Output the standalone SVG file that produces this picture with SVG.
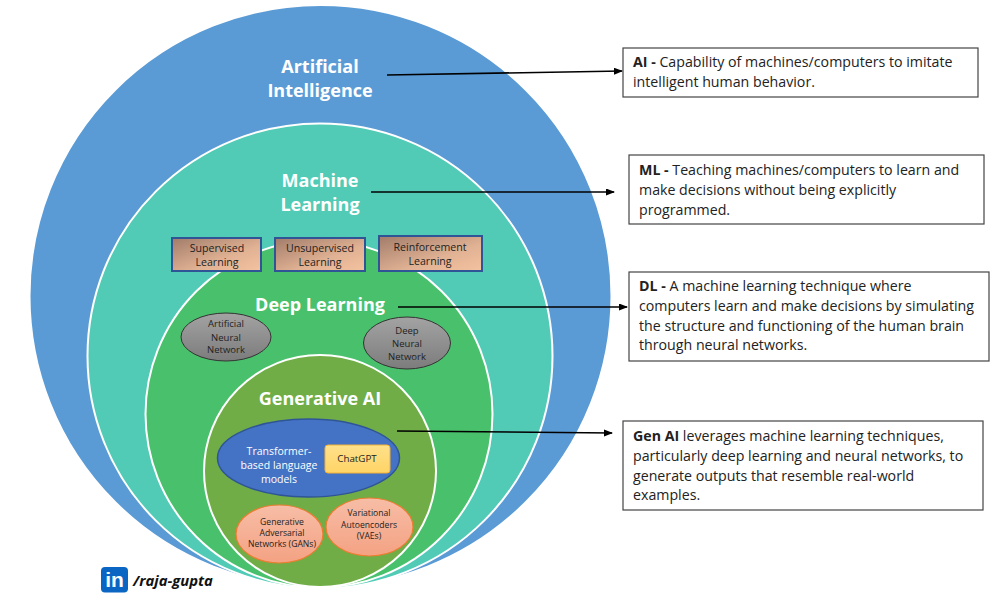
<svg xmlns="http://www.w3.org/2000/svg" width="999" height="615" viewBox="0 0 999 615">
<style>
text{font-family:"Open Sans","Noto Sans","Liberation Sans",sans-serif;text-anchor:middle}
.circ{stroke:#fff;stroke-width:2}
.title{fill:#fff;font-weight:700;font-size:18px}
.sm{fill:#222;font-size:10.6px}
.xs{fill:#222;font-size:8.6px}
.gt{fill:#222;font-size:9.5px}
.rect{fill:url(#brown);stroke:#2f5597;stroke-width:2}
.gray{fill:url(#grayG);stroke:#333;stroke-width:1}
.sal{fill:url(#salG);stroke:#ed7d31;stroke-width:1.2}
.box{fill:#fff;stroke:#444;stroke-width:1.2}
.bt{fill:#222;font-size:14.2px;text-anchor:start}
.bt tspan.b{font-weight:700}
.conn{stroke:#000;stroke-width:1.6;fill:none;marker-end:url(#arr)}
</style>
<defs>
<linearGradient id="brown" x1="0" y1="0" x2="1" y2="1"><stop offset="0" stop-color="#a17c6a"/><stop offset="0.6" stop-color="#e0b193"/><stop offset="1" stop-color="#f4c3a0"/></linearGradient>
<linearGradient id="grayG" x1="0" y1="0" x2="0" y2="1"><stop offset="0" stop-color="#a3a3a3"/><stop offset="1" stop-color="#7c7c7c"/></linearGradient>
<linearGradient id="salG" x1="0" y1="0" x2="0" y2="1"><stop offset="0" stop-color="#f7bda6"/><stop offset="1" stop-color="#f4a283"/></linearGradient>
<linearGradient id="yel" x1="0" y1="0" x2="0" y2="1"><stop offset="0" stop-color="#ffe08a"/><stop offset="1" stop-color="#ffd466"/></linearGradient>
<marker id="arr" markerWidth="9" markerHeight="8" refX="8" refY="3.5" orient="auto" markerUnits="userSpaceOnUse"><path d="M0 0L9 3.5L0 7Z" fill="#000"/></marker>
</defs>
<rect width="999" height="615" fill="#fff"/>
<g id="node-ai"><circle class="circ" cx="320.500" cy="296" r="291" fill="#5b9bd5"/><text class="title" x="320" y="73">Artificial</text><text class="title" x="320" y="97">Intelligence</text></g>
<g id="node-ml"><circle class="circ" cx="320" cy="356" r="232.500" fill="#51cbb6"/><text class="title" x="320" y="187">Machine</text><text class="title" x="320" y="211">Learning</text></g>
<g id="node-dl"><circle class="circ" cx="319" cy="414" r="173.500" fill="#49c16c"/><text class="title" x="320" y="311">Deep Learning</text></g>
<g id="node-gen"><circle class="circ" cx="320" cy="471" r="116" fill="#70ad47"/><text class="title" x="320" y="405">Generative AI</text></g>
<g id="node-supervised"><rect class="rect" x="172" y="238" width="89" height="33"/><text class="sm" x="217" y="252">Supervised</text><text class="sm" x="217" y="266">Learning</text></g>
<g id="node-unsupervised"><rect class="rect" x="275" y="238" width="90" height="33"/><text class="sm" x="320" y="252">Unsupervised</text><text class="sm" x="320" y="266">Learning</text></g>
<g id="node-reinforcement"><rect class="rect" x="379" y="236" width="103" height="35"/><text class="sm" x="430" y="251">Reinforcement</text><text class="sm" x="430" y="265">Learning</text></g>
<g id="node-ann"><ellipse class="gray" cx="226" cy="337" rx="45" ry="24"/><text class="gt" x="226" y="327">Artificial</text><text class="gt" x="226" y="341">Neural</text><text class="gt" x="226" y="353">Network</text></g>
<g id="node-dnn"><ellipse class="gray" cx="407" cy="343" rx="43.500" ry="26"/><text class="gt" x="407" y="334">Deep</text><text class="gt" x="407" y="347">Neural</text><text class="gt" x="407" y="360">Network</text></g>
<g id="node-transformer"><ellipse cx="308.500" cy="458" rx="91" ry="39" fill="#4472c4" stroke="#2f5597" stroke-width="1.500"/><text x="279" y="455" fill="#fff" font-size="10.500">Transformer-</text><text x="279" y="469" fill="#fff" font-size="10.500">based language</text><text x="279" y="483" fill="#fff" font-size="10.500">models</text></g>
<g id="node-chatgpt"><rect x="325" y="445" width="65" height="28" rx="3" fill="url(#yel)" stroke="#f2b134" stroke-width="1"/><text x="357" y="462" fill="#222" font-size="9.800">ChatGPT</text></g>
<g id="node-gan"><ellipse class="sal" cx="279.500" cy="534" rx="43.500" ry="29"/><text class="xs" x="282" y="525">Generative</text><text class="xs" x="282" y="536">Adversarial</text><text class="xs" x="282" y="547">Networks (GANs)</text></g>
<g id="node-vae"><ellipse class="sal" cx="369.500" cy="527" rx="43.500" ry="29"/><text class="xs" x="369" y="516">Variational</text><text class="xs" x="369" y="528">Autoencoders</text><text class="xs" x="369" y="539">(VAEs)</text></g>
<g id="connectors">
<path class="conn" d="M387 75L622 71"/>
<path class="conn" d="M371 192L614 192"/>
<path class="conn" d="M398 307L627 307"/>
<path class="conn" d="M397 431L612 433"/>
</g>
<g id="note-ai"><rect class="box" x="623" y="48" width="355" height="49"/><text class="bt" x="633" y="67"><tspan class="b">AI - </tspan>Capability of machines/computers to imitate</text><text class="bt" x="633" y="87">intelligent human behavior.</text></g>
<g id="note-ml"><rect class="box" x="629" y="155" width="355" height="69"/><text class="bt" x="639" y="175"><tspan class="b">ML - </tspan>Teaching machines/computers to learn and</text><text class="bt" x="639" y="195">make decisions without being explicitly</text><text class="bt" x="639" y="215">programmed.</text></g>
<g id="note-dl"><rect class="box" x="629" y="272" width="360" height="89"/><text class="bt" x="639" y="291"><tspan class="b">DL - </tspan>A machine learning technique where</text><text class="bt" x="639" y="311">computers learn and make decisions by simulating</text><text class="bt" x="639" y="331">the structure and functioning of the human brain</text><text class="bt" x="639" y="350">through neural networks.</text></g>
<g id="note-gen"><rect class="box" x="623" y="421" width="360" height="89"/><text class="bt" x="633" y="441"><tspan class="b">Gen AI </tspan>leverages machine learning techniques,</text><text class="bt" x="633" y="461">particularly deep learning and neural networks, to</text><text class="bt" x="633" y="481">generate outputs that resemble real-world</text><text class="bt" x="633" y="500">examples.</text></g>
<g id="linkedin"><rect x="101" y="567" width="27" height="25.500" rx="4" fill="#0a66c2"/><text x="114.500" y="587" fill="#fff" font-size="21" font-weight="700" style="font-family:'Liberation Sans',sans-serif">in</text><text x="133" y="586" fill="#111" font-size="14.800" font-weight="700" font-style="italic" style="text-anchor:start">/raja-gupta</text></g>
</svg>
